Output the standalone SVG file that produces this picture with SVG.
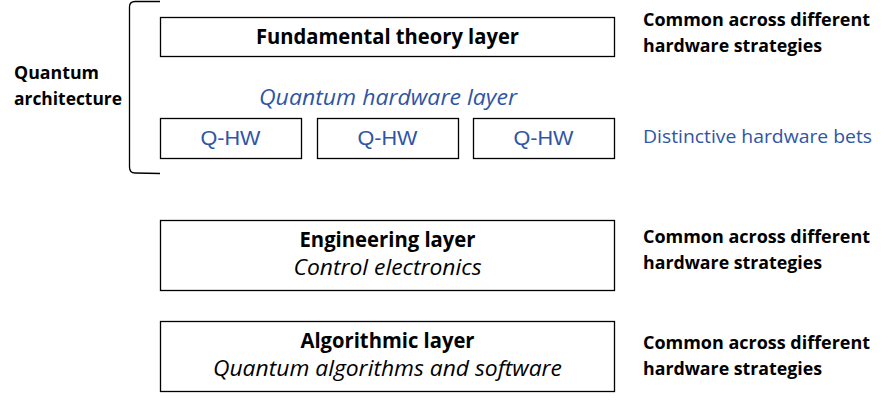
<svg xmlns="http://www.w3.org/2000/svg" width="896" height="401" viewBox="0 0 896 401">
<style>
.box{fill:#fff;stroke:#000;stroke-width:1.3}
text{font-family:"Open Sans","Liberation Sans",sans-serif;fill:#000}
.b{font-weight:bold}
.i{font-style:italic;font-weight:500}
.blue{fill:#2F55A5}
.c{text-anchor:middle}
.q{font-family:"Liberation Sans",Arial,sans-serif}
.br{fill:none;stroke:#000;stroke-width:1.3}
</style>
<rect width="896" height="401" fill="#fff"/>
<g id="bracket">
<path class="br" d="M160,1.5 L135,1.5 Q129.5,1.5 129.5,7 L129.5,167 Q129.5,173 135,173 L160,173.5"/>
</g>
<g id="quantum-architecture">
<text class="b" x="14" y="79" font-size="18" textLength="85" lengthAdjust="spacingAndGlyphs">Quantum</text>
<text class="b" x="14" y="105" font-size="18" textLength="108" lengthAdjust="spacingAndGlyphs">architecture</text>
</g>
<g id="fundamental">
<rect class="box" x="160.5" y="17.5" width="454" height="39"/>
<text class="b c" x="387.5" y="44" font-size="21" textLength="263" lengthAdjust="spacingAndGlyphs">Fundamental theory layer</text>
</g>
<g id="hw-layer-label">
<text class="i blue c" x="388" y="105" font-size="21" textLength="258" lengthAdjust="spacingAndGlyphs">Quantum hardware layer</text>
</g>
<g id="qhw1">
<rect class="box" x="160.5" y="118.5" width="141" height="40"/>
<text class="blue c q" x="230.5" y="145" font-size="20" textLength="60" lengthAdjust="spacingAndGlyphs">Q-HW</text>
</g>
<g id="qhw2">
<rect class="box" x="317.5" y="118.5" width="141" height="40"/>
<text class="blue c q" x="387.5" y="145" font-size="20" textLength="60" lengthAdjust="spacingAndGlyphs">Q-HW</text>
</g>
<g id="qhw3">
<rect class="box" x="473.5" y="118.5" width="141" height="40"/>
<text class="blue c q" x="543.5" y="145" font-size="20" textLength="60" lengthAdjust="spacingAndGlyphs">Q-HW</text>
</g>
<g id="engineering">
<rect class="box" x="160.5" y="220.5" width="454" height="70"/>
<text class="b c" x="387.5" y="247" font-size="21" textLength="176" lengthAdjust="spacingAndGlyphs">Engineering layer</text>
<text class="i c" x="387.5" y="275" font-size="21" textLength="188" lengthAdjust="spacingAndGlyphs">Control electronics</text>
</g>
<g id="algorithmic">
<rect class="box" x="160.5" y="321.5" width="454" height="70"/>
<text class="b c" x="387.5" y="348" font-size="21" textLength="174" lengthAdjust="spacingAndGlyphs">Algorithmic layer</text>
<text class="i c" x="387.5" y="376" font-size="21" textLength="349" lengthAdjust="spacingAndGlyphs">Quantum algorithms and software</text>
</g>
<g id="notes">
<text class="b" x="643" y="26" font-size="18" textLength="227" lengthAdjust="spacingAndGlyphs">Common across different</text>
<text class="b" x="643" y="52" font-size="18" textLength="179" lengthAdjust="spacingAndGlyphs">hardware strategies</text>
<text class="blue" x="643" y="143" font-size="18" font-weight="500" textLength="229" lengthAdjust="spacingAndGlyphs">Distinctive hardware bets</text>
<text class="b" x="643" y="243" font-size="18" textLength="227" lengthAdjust="spacingAndGlyphs">Common across different</text>
<text class="b" x="643" y="269" font-size="18" textLength="179" lengthAdjust="spacingAndGlyphs">hardware strategies</text>
<text class="b" x="643" y="349" font-size="18" textLength="227" lengthAdjust="spacingAndGlyphs">Common across different</text>
<text class="b" x="643" y="375" font-size="18" textLength="179" lengthAdjust="spacingAndGlyphs">hardware strategies</text>
</g>
<g id="connectors"></g>
</svg>
